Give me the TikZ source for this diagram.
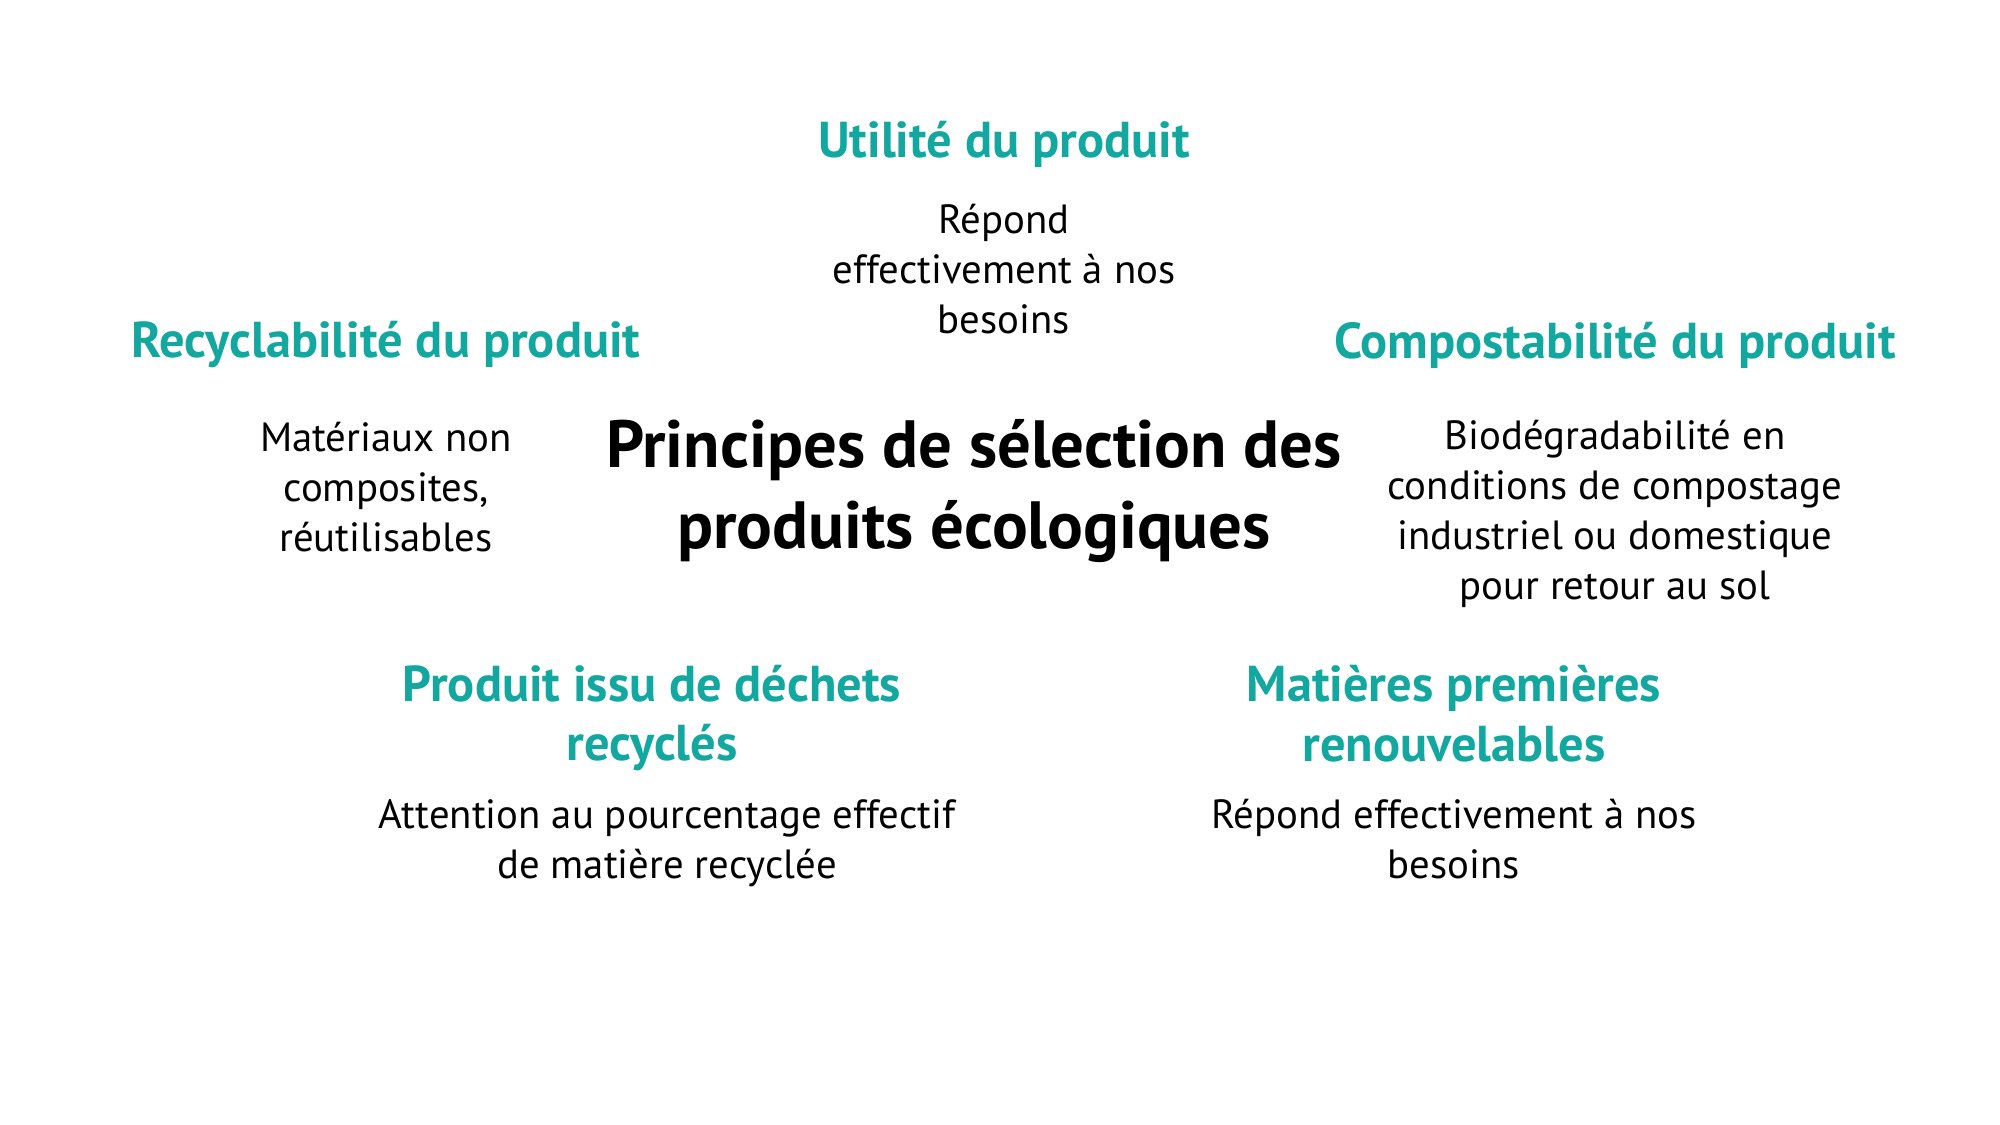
\documentclass[tikz,border=0pt]{standalone}
\usepackage{fontspec}
\setmainfont{PT Sans}
\usepackage{tikz}
\definecolor{teal}{RGB}{18,168,160}

\begin{document}
\begin{tikzpicture}[x=0.1mm, y=-0.1mm,
    head/.style = {text=teal, font=\fontsize{14.35}{17}\selectfont\bfseries, align=center, inner sep=0pt},
    body/.style = {text=black, font=\fontsize{11.6}{14.2}\selectfont, align=center, inner sep=0pt},
    main/.style = {text=black, font=\fontsize{19}{22.8}\selectfont\bfseries, align=center, inner sep=0pt}]
    \useasboundingbox (0,0) rectangle (2000,1125);
    \node[main] (centre) at (974,491) {Principes de sélection des\\produits écologiques};
    \node[head] (util) at (1004,144) {Utilité du produit};
    \node[body] (utilt) at (1004,269) {Répond\\effectivement à nos\\besoins};
    \node[head] (recy) at (386,345) {Recyclabilité du produit};
    \node[body] (recyt) at (386,487) {Matériaux non\\composites,\\réutilisables};
    \node[head] (comp) at (1615,345) {Compostabilité du produit};
    \node[body] (compt) at (1615,514) {Biodégradabilité en\\conditions de compostage\\industriel ou domestique\\pour retour au sol};
    \node[head] (dech) at (652,718) {Produit issu de déchets\\recyclés};
    \node[body] (decht) at (667,843) {Attention au pourcentage effectif\\de matière recyclée};
    \node[head] (mat) at (1454,714) {Matières premières\\renouvelables};
    \node[body] (matt) at (1454,839) {Répond effectivement à nos\\besoins};
\end{tikzpicture}
\end{document}
